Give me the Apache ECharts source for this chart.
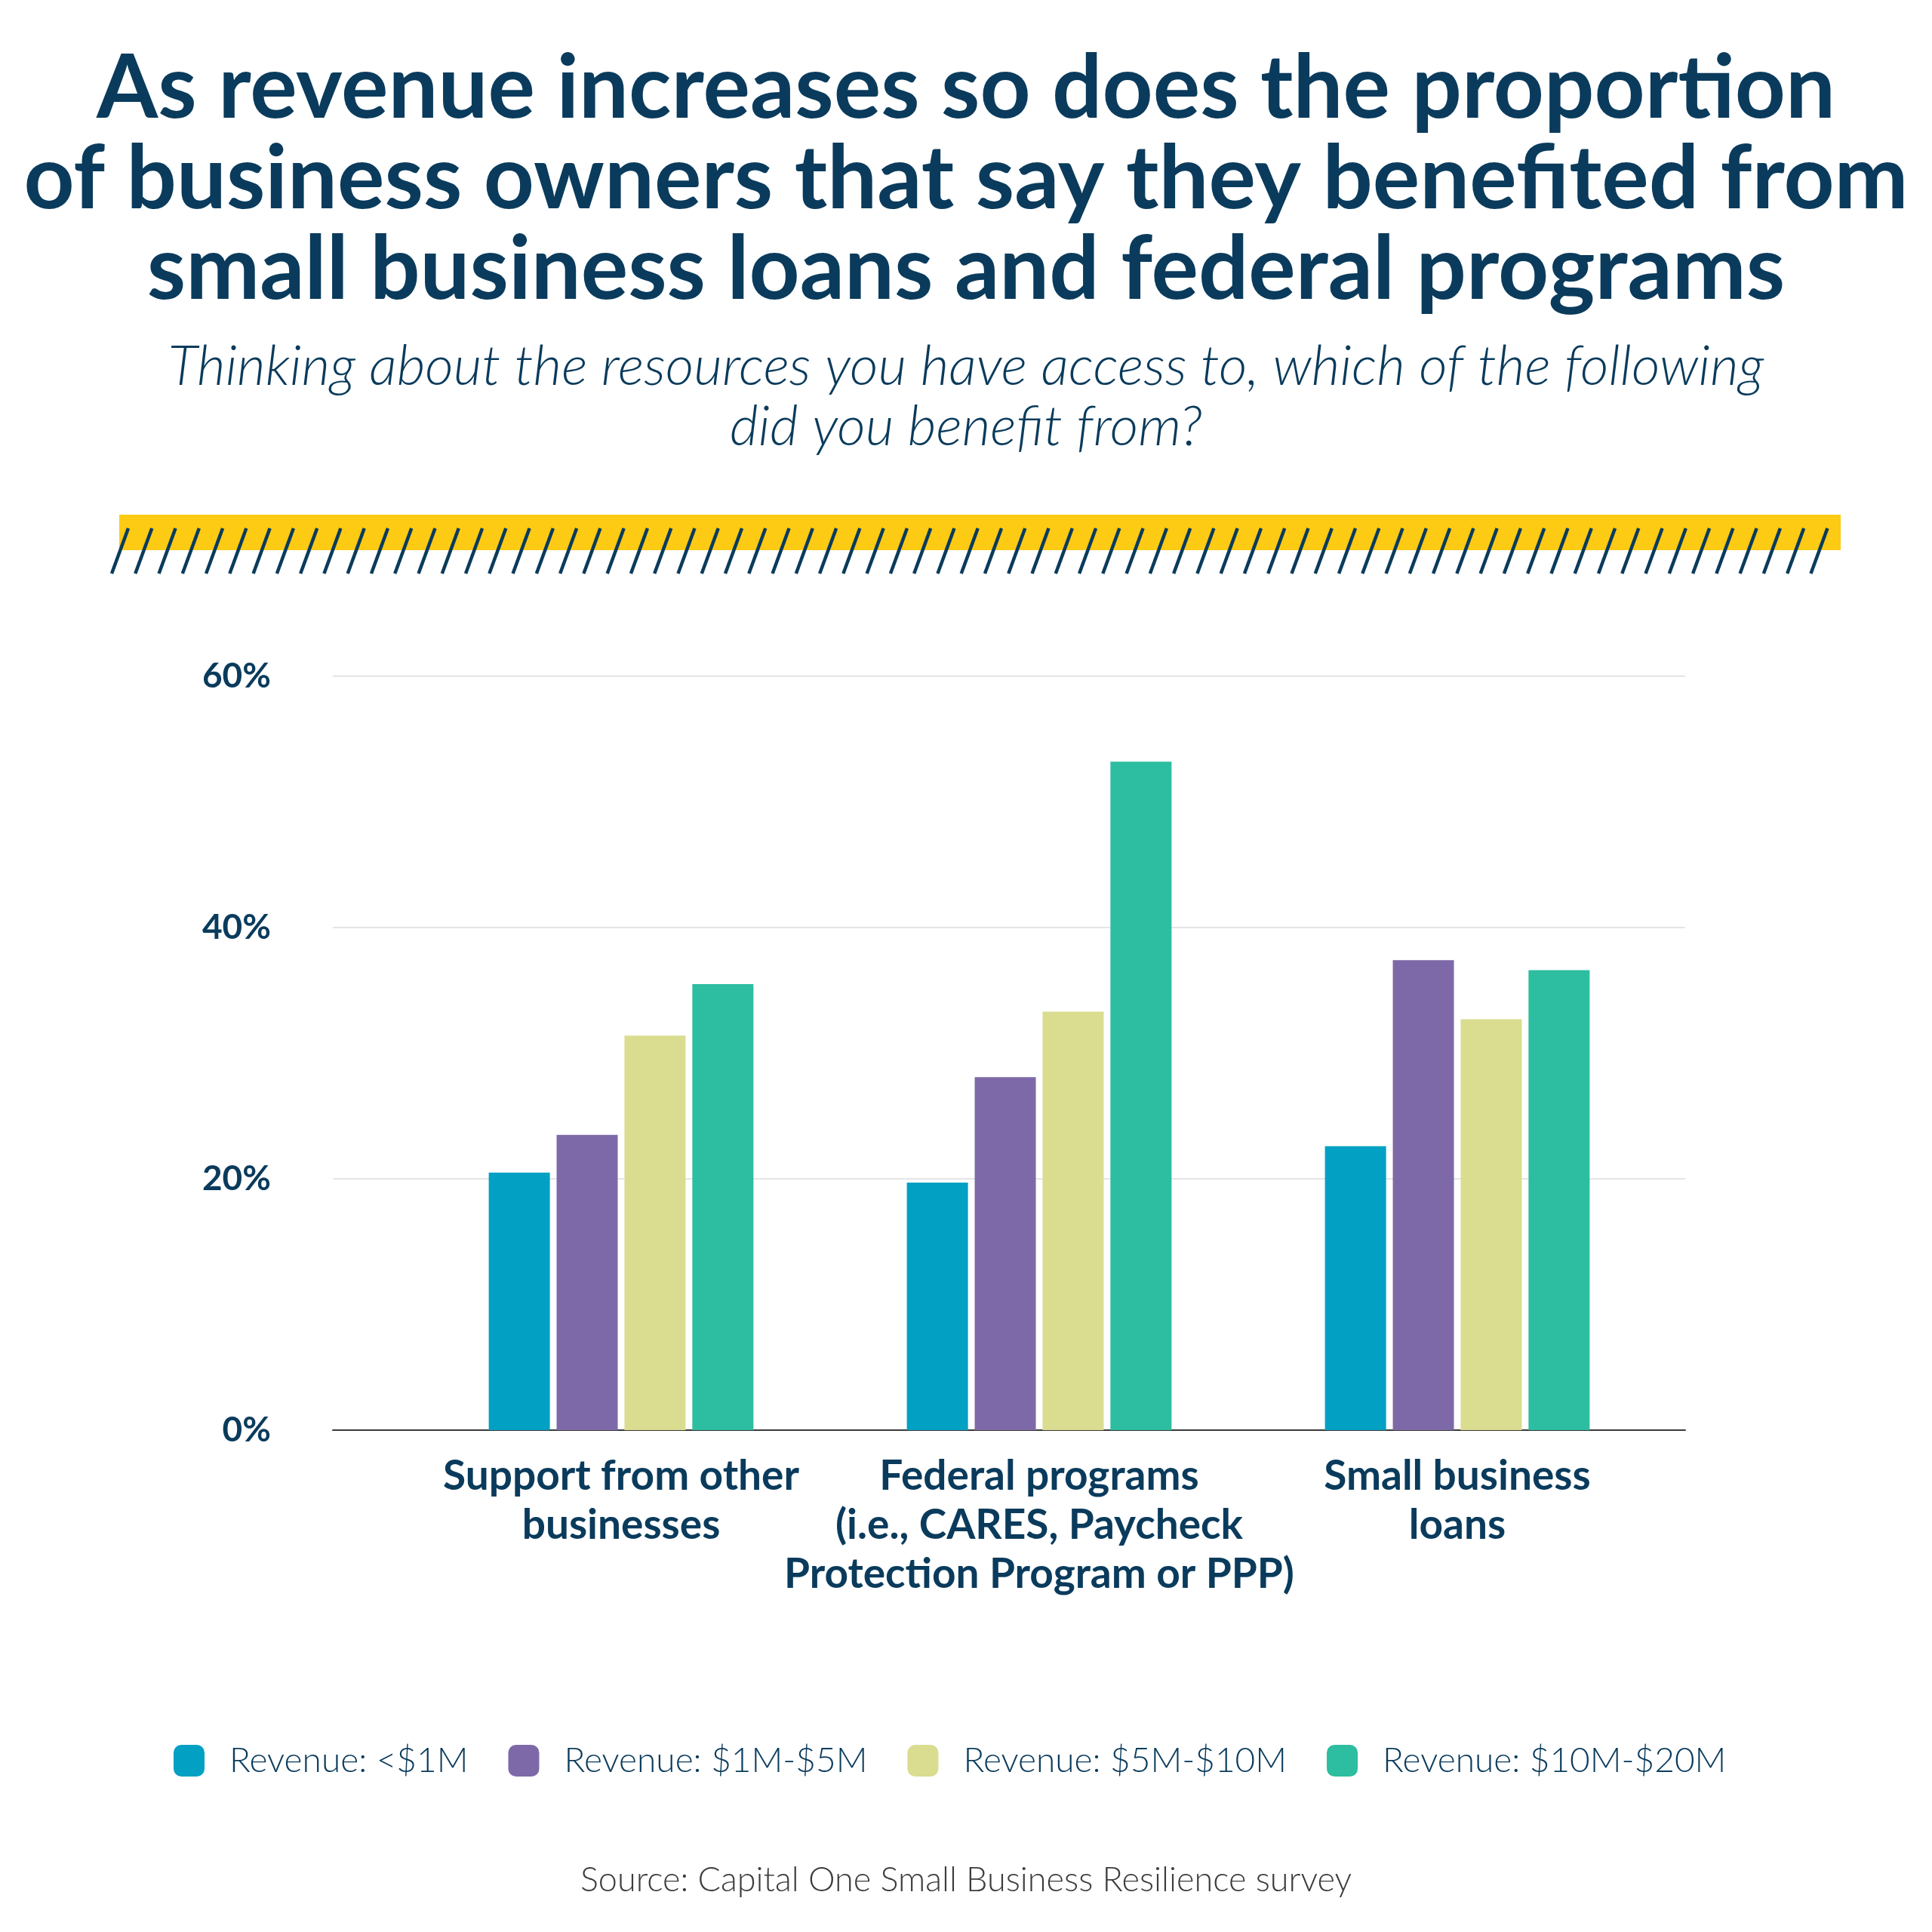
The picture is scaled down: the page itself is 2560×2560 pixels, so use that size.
<!DOCTYPE html>
<html>
<head>
<meta charset="utf-8">
<title>Resources benefited from, by revenue</title>
<script src="https://cdn.jsdelivr.net/npm/echarts@6/dist/echarts.min.js"></script>
<style>
html, body { margin: 0; padding: 0; background: #fff; }
#chart { width: 2560px; height: 2560px; }
</style>
</head>
<body>
<div id="chart"></div>
<script>
// data
var categories = [
    'Support from other\nbusinesses',
    'Federal programs\n(i.e., CARES, Paycheck\nProtection Program or PPP)',
    'Small business\nloans'
];
var seriesNames = ['Revenue: <$1M', 'Revenue: $1M-$5M', 'Revenue: $5M-$10M', 'Revenue: $10M-$20M'];
var under1M = [20.5, 19.7, 22.6];
var from1to5M = [23.5, 28.1, 37.4];
var from5to10M = [31.4, 33.3, 32.7];
var from10to20M = [35.5, 53.2, 36.6];
var yMin = 0, yMax = 60, yStep = 20;

var navy = '#0a3b5c';
var colors = ['#02a1c3', '#7e69a8', '#dadc90', '#2dbda0'];

// yellow band with the slashes
var deco = [{
    type: 'rect',
    shape: {x: 158, y: 682, width: 2281, height: 47},
    style: {fill: '#fdca14'},
    z: 1
}];
for (var i = 0; i < 73; i++) {
    var x = 148 + i * 31.27;
    deco.push({
        type: 'line',
        shape: {x1: x, y1: 760, x2: x + 22, y2: 700},
        style: {stroke: navy, lineWidth: 4.5},
        z: 2
    });
}

var chart = echarts.init(document.getElementById('chart'));

var valueSets = [under1M, from1to5M, from5to10M, from10to20M];
var series = valueSets.map(function (vals, idx) {
    return {
        name: seriesNames[idx],
        type: 'bar',
        xAxisIndex: 1,
        yAxisIndex: 1,
        barWidth: 81,
        barGap: '11%',
        itemStyle: {color: colors[idx]},
        data: vals
    };
});

chart.setOption({
    backgroundColor: '#fff',
    animation: false,
    color: colors,
    title: [
        {
            text: 'As revenue increases so does the proportion\nof business owners that say they benefited from\nsmall business loans and federal programs',
            left: 'center',
            top: 58,
            padding: 0,
            textStyle: {fontFamily: 'Lato', fontWeight: 'bold', fontSize: 117, lineHeight: 120, color: navy}
        },
        {
            text: 'Thinking about the resources you have access to, which of the following\ndid you benefit from?',
            left: 'center',
            top: 446,
            padding: 0,
            textStyle: {fontFamily: 'Lato', fontWeight: 300, fontStyle: 'italic', fontSize: 73, lineHeight: 80, color: navy}
        },
        {
            text: 'Source: Capital One Small Business Resilience survey',
            left: 'center',
            top: 2466,
            padding: 0,
            textStyle: {fontFamily: 'Lato', fontWeight: 300, fontSize: 45, lineHeight: 50, color: '#3c3c3c'}
        }
    ],
    legend: {
        left: 230,
        top: 2310,
        padding: 0,
        itemWidth: 41,
        itemHeight: 42,
        itemGap: 53,
        icon: 'roundRect',
        data: seriesNames,
        textStyle: {fontFamily: 'Lato', fontWeight: 300, fontSize: 46, color: navy, padding: [0, 0, 0, 28]}
    },
    grid: [
        {left: 441, right: 327, top: 896, bottom: 665},
        {left: 546, right: 352, top: 896, bottom: 665}
    ],
    xAxis: [
        {
            type: 'value', gridIndex: 0, min: 0, max: 1,
            axisLine: {show: true, lineStyle: {color: '#3a3a3a', width: 2}},
            axisTick: {show: false}, axisLabel: {show: false}, splitLine: {show: false}
        },
        {
            type: 'category', gridIndex: 1, data: categories,
            axisLine: {show: false}, axisTick: {show: false},
            axisLabel: {
                margin: 29, interval: 0,
                fontFamily: 'Lato', fontWeight: 'bold', fontSize: 55, lineHeight: 65, color: navy
            }
        }
    ],
    yAxis: [
        {
            type: 'value', gridIndex: 0, min: yMin, max: yMax, interval: yStep,
            axisLine: {show: false}, axisTick: {show: false},
            axisLabel: {
                margin: 82, formatter: '{value}%',
                fontFamily: 'Lato', fontWeight: 'bold', fontSize: 46, color: navy
            },
            splitLine: {lineStyle: {color: '#dcdcdc', width: 1.5}}
        },
        {
            type: 'value', gridIndex: 1, min: yMin, max: yMax, interval: yStep,
            show: false
        }
    ],
    graphic: deco,
    series: series
});
</script>
</body>
</html>
